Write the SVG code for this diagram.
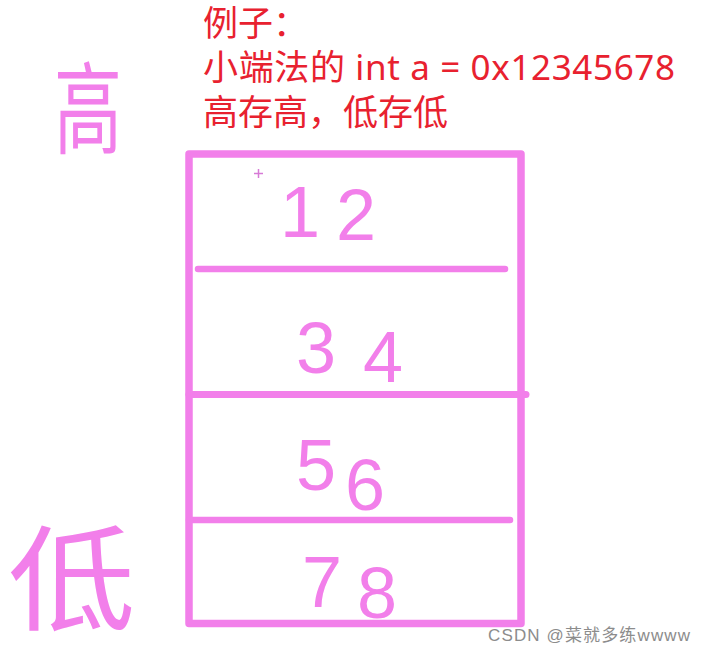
<svg xmlns="http://www.w3.org/2000/svg" width="706" height="653" viewBox="0 0 706 653">
<style>
.title{font-family:'Noto Sans','Noto Sans CJK SC',sans-serif;font-size:35px;fill:#e8212f}
.pen{fill:none;stroke:#f27fea;stroke-linecap:round;stroke-linejoin:round}
.hand{font-family:'Liberation Sans','Noto Sans CJK SC',sans-serif;font-size:72px;fill:#f27fea;text-anchor:middle}
.handcjk{font-family:'Noto Sans CJK SC',sans-serif;fill:#f27fea}
.wm{font-family:'Liberation Sans','Noto Sans CJK SC',sans-serif;font-size:17px;fill:#8c8c8c}
</style>
<rect width="706" height="653" fill="#ffffff"/>
<g id="caption">
<text class="title" x="203" y="36">例子：</text>
<text class="title" x="203" y="80" textLength="472" lengthAdjust="spacing">小端法的 int a = 0x12345678</text>
<text class="title" x="203" y="125">高存高，低存低</text>
</g>
<g id="label-high">
<text class="handcjk" font-size="80" text-anchor="middle" transform="translate(88,146) scale(0.85,1.25)">高</text>
</g>
<g id="label-low">
<text class="handcjk" font-size="108" transform="translate(8,621) scale(1.18,1.05)">低</text>
</g>
<g id="memory-box">
<rect class="pen" x="189" y="154" width="332" height="469.5" stroke-width="7.5" stroke-linecap="square"/>
<line class="pen" x1="198" y1="269" x2="505" y2="269" stroke-width="6.5"/>
<line class="pen" x1="189" y1="394.5" x2="526" y2="394.5" stroke-width="7"/>
<line class="pen" x1="189" y1="520" x2="510" y2="520" stroke-width="6.5"/>
</g>
<g id="cursor">
<line x1="254" y1="173.5" x2="263" y2="173.5" stroke="#d77ad6" stroke-width="1.5"/>
<line x1="258.5" y1="169" x2="258.5" y2="178" stroke="#d77ad6" stroke-width="1.5"/>
</g>
<g id="cell-12">
<text class="hand" x="300" y="237" font-size="64">1</text>
<text class="hand" x="356" y="240" font-size="68">2</text>
</g>
<g id="cell-34">
<text class="hand" x="316" y="373" font-size="80">3</text>
<text class="hand" x="383" y="382" font-size="68">4</text>
</g>
<g id="cell-56">
<text class="hand" x="316" y="490" font-size="72">5</text>
<text class="hand" x="365" y="510" font-size="100">6</text>
</g>
<g id="cell-78">
<text class="hand" x="322" y="607" font-size="90">7</text>
<text class="hand" x="377" y="618" font-size="80">8</text>
</g>
<g id="watermark">
<text class="wm" x="488" y="641" textLength="202" lengthAdjust="spacing">CSDN @菜就多练wwww</text>
</g>
</svg>
